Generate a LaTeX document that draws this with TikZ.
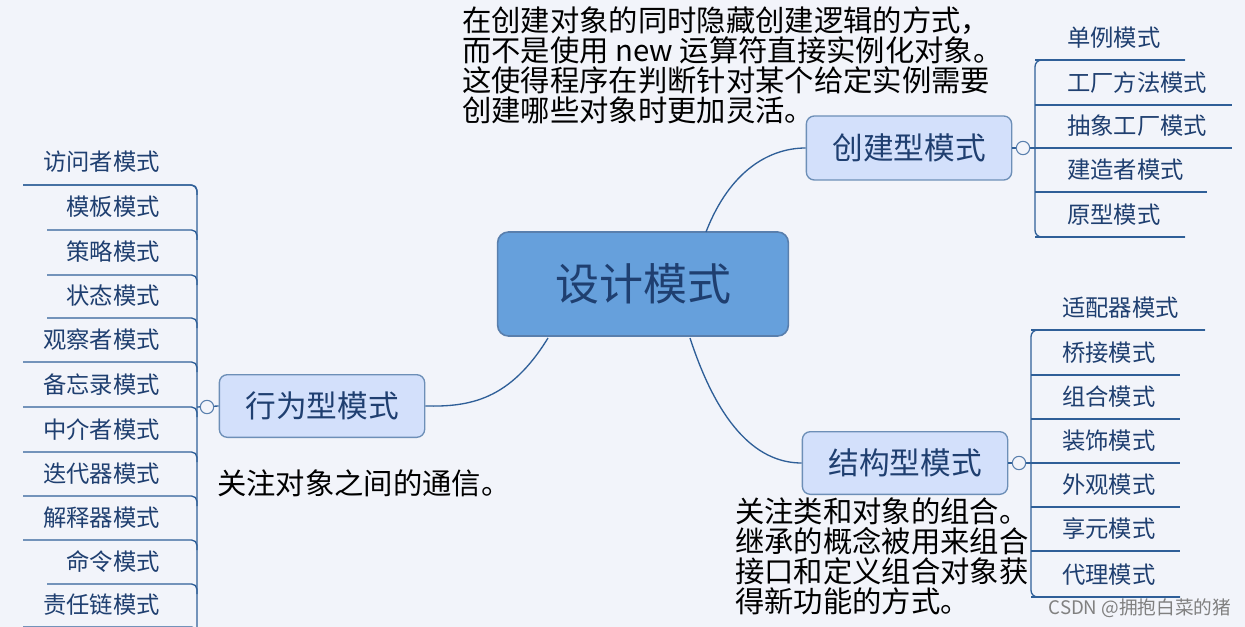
\documentclass[tikz,border=0pt]{standalone}
\usepackage{fontspec}
\setmainfont{Noto Sans CJK SC}
\newfontfamily\cjk{Noto Sans CJK SC}
\usetikzlibrary{positioning,calc}
\definecolor{bgc}{HTML}{F2F4FA}
\definecolor{linec}{HTML}{2F5F98}
\definecolor{txtc}{HTML}{1F3F70}
\definecolor{subfill}{HTML}{D3E0FB}
\definecolor{mainfill}{HTML}{66A0DC}
\tikzset{
  topic/.style={draw=linec!70, line width=1pt, rounded corners=6pt, fill=subfill, text=txtc, font=\fontsize{23}{23}\selectfont, inner sep=0pt},
  leaf/.style={text=txtc, font=\fontsize{17.5}{17.5}\selectfont, inner sep=0pt},
  note/.style={text=black, font=\fontsize{22}{22.5}\selectfont, align=left, inner sep=0pt},
  conn/.style={draw=linec, line width=1pt},
  knob/.style={circle, draw=linec!80, fill=bgc, line width=0.8pt, minimum size=10pt, inner sep=0pt}
}
\begin{document}
\begin{tikzpicture}[x=0.75pt, y=-0.75pt]
        \fill[bgc] (0,0) rectangle (1245,627);
        \useasboundingbox (0,0) rectangle (1245,627);
        % centre
        \node[draw=linec!80, line width=1.2pt, rounded corners=8pt, fill=mainfill, text=txtc,
              minimum width=218pt, minimum height=78pt, font=\fontsize{33}{33}\selectfont] (dp) at (643,284) {设计模式};
        % three branches
        \node[topic, minimum width=154pt, minimum height=48pt] (cj) at (909,148) {创建型模式};
        \node[topic, minimum width=154pt, minimum height=47pt] (jg) at (905,463) {结构型模式};
        \node[topic, minimum width=154pt, minimum height=47pt] (xw) at (322,406) {行为型模式};
        \draw[conn] (706,232) .. controls (730,170) and (770,148) .. (cj.west);
        \draw[conn] (690,338) .. controls (720,430) and (760,463) .. (jg.west);
        \draw[conn] (548,338) .. controls (510,400) and (470,407) .. (xw.east);
        % notes
        \node[note, anchor=north west] (n1) at (462,6) {在创建对象的同时隐藏创建逻辑的方式，\\而不是使用 new 运算符直接实例化对象。\\这使得程序在判断针对某个给定实例需要\\创建哪些对象时更加灵活。};
        \node[note, anchor=north west] (n2) at (735,497) {关注类和对象的组合。\\继承的概念被用来组合\\接口和定义组合对象获\\得新功能的方式。};
        \node[note, anchor=west] (n3) at (217,483) {关注对象之间的通信。};
        % creational leaves
        \draw[conn] (cj.east) -- (1035,148);
        \node[knob] (kc) at (1023,148) {};
        \draw[conn, rounded corners=5pt] (1185,60) -- (1035,60) -- (1035,237) -- (1185,237);
        \foreach \y/\e/\t [count=\i] in {60/1185/单例模式, 105/1232/工厂方法模式, 148/1232/抽象工厂模式, 192/1207/建造者模式, 237/1185/原型模式} {
          \node[leaf, anchor=base west] (c\i) at (1067,\y-13) {\t};
          \draw[conn] (1035,\y) -- (\e,\y);
        }
        % structural leaves
        \draw[conn] (jg.east) -- (1031,463);
        \node[knob] (ks) at (1019,463) {};
        \draw[conn, rounded corners=5pt] (1205,330) -- (1031,330) -- (1031,597) -- (1180,597);
        \foreach \y/\e/\t [count=\i] in {330/1205/适配器模式, 375/1180/桥接模式, 419/1180/组合模式, 463/1180/装饰模式, 507/1180/外观模式, 551/1180/享元模式, 597/1180/代理模式} {
          \node[leaf, anchor=base west] (s\i) at (1062,\y-14) {\t};
          \draw[conn] (1031,\y) -- (\e,\y);
        }
        % behavioural leaves
        \draw[conn] (xw.west) -- (197,407);
        \node[knob] (kb) at (207,407) {};
        \draw[conn, rounded corners=5pt] (23,185) -- (197,185) -- (197,640);
        \foreach \y/\s/\t [count=\i] in {185/23/访问者模式, 230/47/模板模式, 275/47/策略模式, 318/47/状态模式, 362/23/观察者模式, 407/23/备忘录模式, 452/23/中介者模式, 496/23/迭代器模式, 540/23/解释器模式, 584/47/命令模式, 627/23/责任链模式} {
          \node[leaf, anchor=base east] (b\i) at (160,\y-14) {\t};
          \draw[conn, rounded corners=4pt] (\s,\y) -- (197,\y) -- (197,\y+10);
        }
        \node[text=gray, font=\fontsize{14}{14}\selectfont, anchor=east] (wm) at (1236,608) {CSDN @拥抱白菜的猪};
\end{tikzpicture}
\end{document}
